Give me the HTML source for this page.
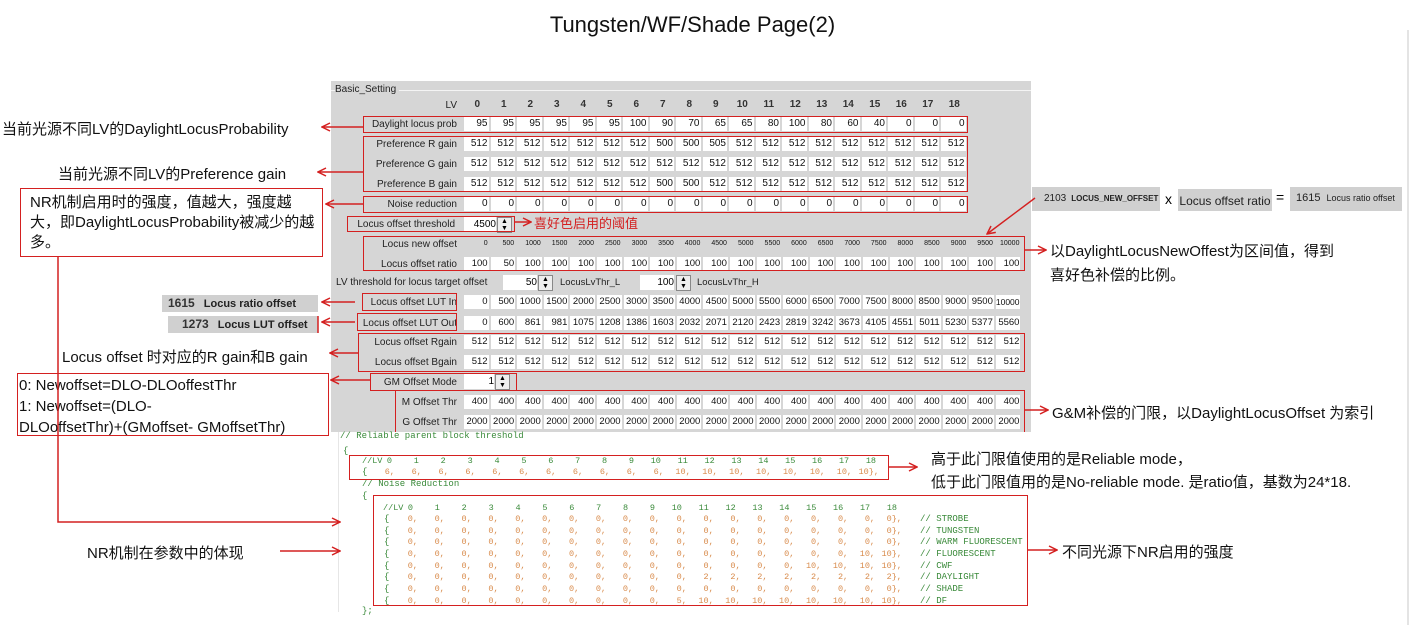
<!DOCTYPE html>
<html><head><meta charset="utf-8">
<style>
body{margin:0;width:1415px;height:625px;background:#fff;position:relative;overflow:hidden;font-family:"Liberation Sans","Noto Sans CJK SC",sans-serif;}
.a{position:absolute;white-space:nowrap;}
.rb{position:absolute;border:1.5px solid #d42020;box-sizing:border-box;}
.panel{position:absolute;left:331px;top:81px;width:700px;height:351px;background:#d6d6d6;}
.row{position:absolute;left:464px;display:flex;font-size:10px;color:#111;}
.row span{width:24.5px;margin-right:2px;background:#fff;text-align:right;padding-right:1px;box-sizing:border-box;height:14px;line-height:14px;}
.row.w span{width:24.6px;margin-right:2px;font-size:9.5px;}
.row.s span{font-size:7px;background:#d6d6d6;}
.lb{position:absolute;font-size:10px;color:#222;text-align:right;width:120px;left:337px;}
.lv{position:absolute;left:464px;top:99px;display:flex;font-size:10px;color:#333;font-weight:bold}
.lv span{width:26.5px;text-align:center}
.code{position:absolute;font-family:"Liberation Mono",monospace;font-size:9px;color:#3a8a3a;}
.cr{position:absolute;display:flex;font-family:"Liberation Mono",monospace;font-size:8.5px;color:#d88a4a;}
.cr span{width:26.9px;text-align:right}
.ch{position:absolute;display:flex;font-family:"Liberation Mono",monospace;font-size:8.5px;color:#3a8a3a;}
.ch span{width:26.9px;text-align:right}
.t{position:absolute;font-size:15px;color:#111;white-space:nowrap;}
.gb{position:absolute;background:#d0d0d0;font-size:11px;color:#222;}
.sp{position:absolute;background:#fff;font-size:10px;text-align:right;height:15px;line-height:15px;}
</style></head><body>
<div class="a" style="left:0;top:12px;width:1385px;text-align:center;font-size:22px;color:#111;">Tungsten/WF/Shade Page(2)</div>
<div class="a" style="left:1407px;top:30px;width:2px;height:595px;background:#e4e4e4"></div>

<div class="panel"></div>
<div class="a" style="left:331px;top:90px;width:700px;height:1px;background:#f4f4f4"></div>
<div class="a" style="left:335px;top:84px;font-size:10px;color:#222;background:#d6d6d6;padding-right:3px">Basic_Setting</div>

<div class="lb" style="top:100px">LV</div>
<div class="lv"><span>0</span><span>1</span><span>2</span><span>3</span><span>4</span><span>5</span><span>6</span><span>7</span><span>8</span><span>9</span><span>10</span><span>11</span><span>12</span><span>13</span><span>14</span><span>15</span><span>16</span><span>17</span><span>18</span></div>

<div class="lb" style="top:119px">Daylight locus prob</div>
<div class="row" style="top:117px"><span>95</span><span>95</span><span>95</span><span>95</span><span>95</span><span>95</span><span>100</span><span>90</span><span>70</span><span>65</span><span>65</span><span>80</span><span>100</span><span>80</span><span>60</span><span>40</span><span>0</span><span>0</span><span>0</span></div>
<div class="lb" style="top:139px">Preference R gain</div>
<div class="row" style="top:137px"><span>512</span><span>512</span><span>512</span><span>512</span><span>512</span><span>512</span><span>512</span><span>500</span><span>500</span><span>505</span><span>512</span><span>512</span><span>512</span><span>512</span><span>512</span><span>512</span><span>512</span><span>512</span><span>512</span></div>
<div class="lb" style="top:159px">Preference G gain</div>
<div class="row" style="top:157px"><span>512</span><span>512</span><span>512</span><span>512</span><span>512</span><span>512</span><span>512</span><span>512</span><span>512</span><span>512</span><span>512</span><span>512</span><span>512</span><span>512</span><span>512</span><span>512</span><span>512</span><span>512</span><span>512</span></div>
<div class="lb" style="top:179px">Preference B gain</div>
<div class="row" style="top:177px"><span>512</span><span>512</span><span>512</span><span>512</span><span>512</span><span>512</span><span>512</span><span>500</span><span>500</span><span>512</span><span>512</span><span>512</span><span>512</span><span>512</span><span>512</span><span>512</span><span>512</span><span>512</span><span>512</span></div>
<div class="lb" style="top:199px">Noise reduction</div>
<div class="row" style="top:197px"><span>0</span><span>0</span><span>0</span><span>0</span><span>0</span><span>0</span><span>0</span><span>0</span><span>0</span><span>0</span><span>0</span><span>0</span><span>0</span><span>0</span><span>0</span><span>0</span><span>0</span><span>0</span><span>0</span></div>

<div class="lb" style="top:219px;left:335px">Locus offset threshold</div>
<div class="sp" style="left:464px;top:217px;width:32px">4500</div>
<div class="a" style="left:497px;top:217px;width:13px;height:14px;background:#eee;border:1px solid #888;font-size:7px;line-height:7px;text-align:center">▲<br>▼</div>

<div class="lb" style="top:239px">Locus new offset</div>
<div class="row w s" style="top:237px"><span>0</span><span>500</span><span>1000</span><span>1500</span><span>2000</span><span>2500</span><span>3000</span><span>3500</span><span>4000</span><span>4500</span><span>5000</span><span>5500</span><span>6000</span><span>6500</span><span>7000</span><span>7500</span><span>8000</span><span>8500</span><span>9000</span><span>9500</span><span>10000</span></div>
<div class="lb" style="top:259px">Locus offset ratio</div>
<div class="row w" style="top:257px"><span>100</span><span>50</span><span>100</span><span>100</span><span>100</span><span>100</span><span>100</span><span>100</span><span>100</span><span>100</span><span>100</span><span>100</span><span>100</span><span>100</span><span>100</span><span>100</span><span>100</span><span>100</span><span>100</span><span>100</span><span>100</span></div>

<div class="a" style="left:336px;top:277px;font-size:10px;color:#222">LV threshold for locus target offset</div>
<div class="sp" style="left:503px;top:275px;width:34px">50</div>
<div class="a" style="left:538px;top:275px;width:13px;height:14px;background:#eee;border:1px solid #888;font-size:7px;line-height:7px;text-align:center">▲<br>▼</div>
<div class="a" style="left:560px;top:277px;font-size:9.5px;color:#222">LocusLvThr_L</div>
<div class="sp" style="left:640px;top:275px;width:34px">100</div>
<div class="a" style="left:676px;top:275px;width:13px;height:14px;background:#eee;border:1px solid #888;font-size:7px;line-height:7px;text-align:center">▲<br>▼</div>
<div class="a" style="left:697px;top:277px;font-size:9.5px;color:#222">LocusLvThr_H</div>

<div class="lb" style="top:297px">Locus offset LUT In</div>
<div class="row w" style="top:295px"><span>0</span><span>500</span><span>1000</span><span>1500</span><span>2000</span><span>2500</span><span>3000</span><span>3500</span><span>4000</span><span>4500</span><span>5000</span><span>5500</span><span>6000</span><span>6500</span><span>7000</span><span>7500</span><span>8000</span><span>8500</span><span>9000</span><span>9500</span><span style="font-size:8.5px">10000</span></div>
<div class="lb" style="top:318px">Locus offset LUT Out</div>
<div class="row w" style="top:316px"><span>0</span><span>600</span><span>861</span><span>981</span><span>1075</span><span>1208</span><span>1386</span><span>1603</span><span>2032</span><span>2071</span><span>2120</span><span>2423</span><span>2819</span><span>3242</span><span>3673</span><span>4105</span><span>4551</span><span>5011</span><span>5230</span><span>5377</span><span>5560</span></div>
<div class="lb" style="top:337px">Locus offset Rgain</div>
<div class="row w" style="top:335px"><span>512</span><span>512</span><span>512</span><span>512</span><span>512</span><span>512</span><span>512</span><span>512</span><span>512</span><span>512</span><span>512</span><span>512</span><span>512</span><span>512</span><span>512</span><span>512</span><span>512</span><span>512</span><span>512</span><span>512</span><span>512</span></div>
<div class="lb" style="top:357px">Locus offset Bgain</div>
<div class="row w" style="top:355px"><span>512</span><span>512</span><span>512</span><span>512</span><span>512</span><span>512</span><span>512</span><span>512</span><span>512</span><span>512</span><span>512</span><span>512</span><span>512</span><span>512</span><span>512</span><span>512</span><span>512</span><span>512</span><span>512</span><span>512</span><span>512</span></div>
<div class="lb" style="top:377px">GM Offset Mode</div>
<div class="sp" style="left:464px;top:374px;width:30px">1</div>
<div class="a" style="left:495px;top:374px;width:13px;height:14px;background:#eee;border:1px solid #888;font-size:7px;line-height:7px;text-align:center">▲<br>▼</div>
<div class="lb" style="top:397px">M Offset Thr</div>
<div class="row w" style="top:395px"><span>400</span><span>400</span><span>400</span><span>400</span><span>400</span><span>400</span><span>400</span><span>400</span><span>400</span><span>400</span><span>400</span><span>400</span><span>400</span><span>400</span><span>400</span><span>400</span><span>400</span><span>400</span><span>400</span><span>400</span><span>400</span></div>
<div class="lb" style="top:417px">G Offset Thr</div>
<div class="row w" style="top:415px"><span>2000</span><span>2000</span><span>2000</span><span>2000</span><span>2000</span><span>2000</span><span>2000</span><span>2000</span><span>2000</span><span>2000</span><span>2000</span><span>2000</span><span>2000</span><span>2000</span><span>2000</span><span>2000</span><span>2000</span><span>2000</span><span>2000</span><span>2000</span><span>2000</span></div>

<div class="rb" style="left:363px;top:116px;width:605px;height:17px"></div>
<div class="rb" style="left:363px;top:136px;width:605px;height:56px"></div>
<div class="rb" style="left:363px;top:196px;width:605px;height:17px"></div>
<div class="rb" style="left:347px;top:216px;width:168px;height:16px"></div>
<div class="rb" style="left:363px;top:236px;width:662px;height:35px"></div>
<div class="rb" style="left:362px;top:293px;width:95px;height:18px"></div>
<div class="rb" style="left:357px;top:313px;width:100px;height:18px"></div>
<div class="rb" style="left:358px;top:333px;width:667px;height:39px"></div>
<div class="rb" style="left:370px;top:373px;width:147px;height:18px"></div>
<div class="rb" style="left:395px;top:390px;width:630px;height:43px"></div>

<div class="a" style="left:338px;top:432px;width:692px;height:180px;background:#fff;border-left:1px solid #e6e6e6"></div>
<div class="code" style="left:340px;top:431px">// Reliable parent block threshold</div>
<div class="code" style="left:343px;top:446px">{</div>
<div class="ch" style="left:362px;top:456px"><span style="width:24px;text-align:left">//LV</span><span style="width:6px">0</span><span>1</span><span>2</span><span>3</span><span>4</span><span>5</span><span>6</span><span>7</span><span>8</span><span>9</span><span>10</span><span>11</span><span>12</span><span>13</span><span>14</span><span>15</span><span>16</span><span>17</span><span>18</span></div>
<div class="code" style="left:362px;top:467px">{</div>
<div class="cr" style="left:368px;top:467px"><span>6,</span><span>6,</span><span>6,</span><span>6,</span><span>6,</span><span>6,</span><span>6,</span><span>6,</span><span>6,</span><span>6,</span><span>6,</span><span>10,</span><span>10,</span><span>10,</span><span>10,</span><span>10,</span><span>10,</span><span>10,</span><span>10},</span></div>
<div class="code" style="left:362px;top:479px">// Noise Reduction</div>
<div class="code" style="left:362px;top:491px">{</div>
<div class="ch" style="left:383px;top:503px"><span style="width:22px;text-align:left">//LV</span><span style="width:8px">0</span><span>1</span><span>2</span><span>3</span><span>4</span><span>5</span><span>6</span><span>7</span><span>8</span><span>9</span><span>10</span><span>11</span><span>12</span><span>13</span><span>14</span><span>15</span><span>16</span><span>17</span><span>18</span></div>

<div class="code" style="left:384px;top:514px">{</div><div class="cr" style="left:391px;top:514px"><span>0,</span><span>0,</span><span>0,</span><span>0,</span><span>0,</span><span>0,</span><span>0,</span><span>0,</span><span>0,</span><span>0,</span><span>0,</span><span>0,</span><span>0,</span><span>0,</span><span>0,</span><span>0,</span><span>0,</span><span>0,</span><span>0},</span></div><div class="code" style="left:920px;top:514px">// STROBE</div>
<div class="code" style="left:384px;top:526px">{</div><div class="cr" style="left:391px;top:526px"><span>0,</span><span>0,</span><span>0,</span><span>0,</span><span>0,</span><span>0,</span><span>0,</span><span>0,</span><span>0,</span><span>0,</span><span>0,</span><span>0,</span><span>0,</span><span>0,</span><span>0,</span><span>0,</span><span>0,</span><span>0,</span><span>0},</span></div><div class="code" style="left:920px;top:526px">// TUNGSTEN</div>
<div class="code" style="left:384px;top:537px">{</div><div class="cr" style="left:391px;top:537px"><span>0,</span><span>0,</span><span>0,</span><span>0,</span><span>0,</span><span>0,</span><span>0,</span><span>0,</span><span>0,</span><span>0,</span><span>0,</span><span>0,</span><span>0,</span><span>0,</span><span>0,</span><span>0,</span><span>0,</span><span>0,</span><span>0},</span></div><div class="code" style="left:920px;top:537px">// WARM FLUORESCENT</div>
<div class="code" style="left:384px;top:549px">{</div><div class="cr" style="left:391px;top:549px"><span>0,</span><span>0,</span><span>0,</span><span>0,</span><span>0,</span><span>0,</span><span>0,</span><span>0,</span><span>0,</span><span>0,</span><span>0,</span><span>0,</span><span>0,</span><span>0,</span><span>0,</span><span>0,</span><span>0,</span><span>10,</span><span>10},</span></div><div class="code" style="left:920px;top:549px">// FLUORESCENT</div>
<div class="code" style="left:384px;top:561px">{</div><div class="cr" style="left:391px;top:561px"><span>0,</span><span>0,</span><span>0,</span><span>0,</span><span>0,</span><span>0,</span><span>0,</span><span>0,</span><span>0,</span><span>0,</span><span>0,</span><span>0,</span><span>0,</span><span>0,</span><span>0,</span><span>10,</span><span>10,</span><span>10,</span><span>10},</span></div><div class="code" style="left:920px;top:561px">// CWF</div>
<div class="code" style="left:384px;top:572px">{</div><div class="cr" style="left:391px;top:572px"><span>0,</span><span>0,</span><span>0,</span><span>0,</span><span>0,</span><span>0,</span><span>0,</span><span>0,</span><span>0,</span><span>0,</span><span>0,</span><span>2,</span><span>2,</span><span>2,</span><span>2,</span><span>2,</span><span>2,</span><span>2,</span><span>2},</span></div><div class="code" style="left:920px;top:572px">// DAYLIGHT</div>
<div class="code" style="left:384px;top:584px">{</div><div class="cr" style="left:391px;top:584px"><span>0,</span><span>0,</span><span>0,</span><span>0,</span><span>0,</span><span>0,</span><span>0,</span><span>0,</span><span>0,</span><span>0,</span><span>0,</span><span>0,</span><span>0,</span><span>0,</span><span>0,</span><span>0,</span><span>0,</span><span>0,</span><span>0},</span></div><div class="code" style="left:920px;top:584px">// SHADE</div>
<div class="code" style="left:384px;top:596px">{</div><div class="cr" style="left:391px;top:596px"><span>0,</span><span>0,</span><span>0,</span><span>0,</span><span>0,</span><span>0,</span><span>0,</span><span>0,</span><span>0,</span><span>0,</span><span>5,</span><span>10,</span><span>10,</span><span>10,</span><span>10,</span><span>10,</span><span>10,</span><span>10,</span><span>10},</span></div><div class="code" style="left:920px;top:596px">// DF</div>
<div class="code" style="left:362px;top:606px">};</div>

<div class="rb" style="left:349px;top:455px;width:540px;height:25px"></div>
<div class="rb" style="left:373px;top:495px;width:655px;height:111px"></div>

<div class="t" style="left:2px;top:118px">当前光源不同LV的DaylightLocusProbability</div>
<div class="t" style="left:58px;top:163px">当前光源不同LV的Preference gain</div>
<div class="rb" style="left:20px;top:188px;width:303px;height:69px;background:#fff"></div>
<div class="t" style="left:30px;top:193px;line-height:20px;width:288px;white-space:normal">NR机制启用时的强度，值越大，强度越大，即DaylightLocusProbability被减少的越多。</div>
<div class="gb" style="left:162px;top:295px;width:156px;height:17px;line-height:17px"><b style="font-size:12px;color:#333;padding:0 6px 0 6px">1615</b> <b style="font-weight:bold">Locus ratio offset</b></div>
<div class="gb" style="left:168px;top:316px;width:150px;height:17px;line-height:17px"><b style="font-size:12px;color:#333;padding:0 6px 0 14px">1273</b> <b>Locus LUT offset</b></div>
<div class="t" style="left:62px;top:346px">Locus offset 时对应的R gain和B gain</div>
<div class="rb" style="left:17px;top:373px;width:312px;height:63px"></div>
<div class="t" style="left:19px;top:375px;line-height:21px;width:305px;white-space:normal">0: Newoffset=DLO-DLOoffestThr<br>1: Newoffset=(DLO-<br>DLOoffsetThr)+(GMoffset- GMoffsetThr)</div>
<div class="t" style="left:87px;top:542px">NR机制在参数中的体现</div>

<div class="a" style="left:534px;top:213px;font-size:13px;color:#d42020">喜好色启用的阈值</div>
<div class="gb" style="left:1032px;top:187px;width:128px;height:24px;line-height:24px;font-size:8px;overflow:hidden"><span style="padding:0 5px 0 12px;font-size:10px">2103</span><b>LOCUS_NEW_OFFSET</b></div>
<div class="a" style="left:1165px;top:191px;font-size:14px">x</div>
<div class="gb" style="left:1178px;top:189px;width:94px;height:22px;line-height:24px;font-size:12px;text-align:center">Locus offset ratio</div>
<div class="a" style="left:1276px;top:189px;font-size:14px">=</div>
<div class="gb" style="left:1290px;top:187px;width:112px;height:24px;line-height:22px;font-size:9px"><span style="padding:0 6px 0 6px;font-size:11px">1615</span>Locus ratio offset</div>
<div class="t" style="left:1050px;top:240px;line-height:24px">以DaylightLocusNewOffest为区间值，得到<br>喜好色补偿的比例。</div>
<div class="t" style="left:1052px;top:402px">G&amp;M补偿的门限，以DaylightLocusOffset 为索引</div>
<div class="t" style="left:931px;top:448px;line-height:23px">高于此门限值使用的是Reliable mode，<br>低于此门限值用的是No-reliable mode. 是ratio值，基数为24*18.</div>
<div class="t" style="left:1062px;top:541px">不同光源下NR启用的强度</div>

<svg class="a" style="left:0;top:0" width="1415" height="625">
<defs><marker id="m" markerWidth="10" markerHeight="10" refX="9" refY="5" orient="auto" markerUnits="userSpaceOnUse"><path d="M1,1 L9,5 L1,9" fill="none" stroke="#d42020" stroke-width="1.5"/></marker></defs>
<g stroke="#d42020" stroke-width="1.5" fill="none" marker-end="url(#m)">
<line x1="363" y1="127" x2="322" y2="127"/>
<line x1="363" y1="172" x2="318" y2="172"/>
<line x1="363" y1="204" x2="326" y2="204"/>
<line x1="355" y1="302" x2="322" y2="302"/>
<line x1="355" y1="322" x2="322" y2="322"/>
<line x1="358" y1="353" x2="330" y2="353"/>
<line x1="370" y1="380" x2="331" y2="380"/>
<polyline points="58,257 58,522 340,522"/>
<line x1="280" y1="551" x2="340" y2="551"/>
<line x1="515" y1="222" x2="531" y2="222"/>
<line x1="1035" y1="198" x2="987" y2="234"/>
<line x1="1025" y1="250" x2="1046" y2="250"/>
<line x1="1025" y1="410" x2="1048" y2="410"/>
<line x1="889" y1="467" x2="917" y2="467"/>
<line x1="1028" y1="550" x2="1057" y2="550"/>
</g>
<line x1="318" y1="316" x2="318" y2="333" stroke="#d42020" stroke-width="1.5"/>
</svg>
</body></html>
